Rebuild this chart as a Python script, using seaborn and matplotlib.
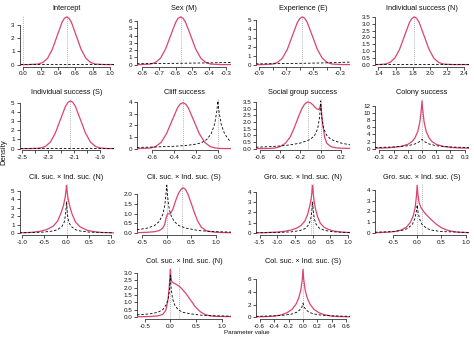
import matplotlib
matplotlib.use("Agg")
import matplotlib.pyplot as plt
import seaborn as sns

# ---------------- data ----------------
titles = ["Intercept", "Sex (M)", "Experience (E)", "Individual success (N)",
          "Individual success (S)", "Cliff success", "Social group success", "Colony success",
          "Cli. suc. \u00d7 Ind. suc. (N)", "Cli. suc. \u00d7 Ind. suc. (S)",
          "Gro. suc. \u00d7 Ind. suc. (N)", "Gro. suc. \u00d7 Ind. suc. (S)",
          "Col. suc. \u00d7 Ind. suc. (N)", "Col. suc. \u00d7 Ind. suc. (S)"]

int_x = [-0.04, 0.06, 0.17, 0.225, 0.28, 0.335, 0.39, 0.445, 0.4725, 0.5, 0.5275, 0.555, 0.61, 0.665, 0.72, 0.775, 0.83, 0.94, 1.04]
int_post = [0.0, 0.001, 0.04, 0.16, 0.49, 1.17, 2.18, 3.18, 3.49, 3.6, 3.49, 3.18, 2.18, 1.17, 0.49, 0.16, 0.04, 0.001, 0.0]
int_prior_x = [-0.04, 0.5, 1.04]
int_prior = [0.04, 0.04, 0.04]

sex_x = [-0.83, -0.81, -0.75, -0.72, -0.69, -0.66, -0.63, -0.60, -0.585, -0.57, -0.555, -0.54, -0.51, -0.48, -0.45, -0.42, -0.39, -0.33, -0.27]
sex_post = [0.0, 0.002, 0.07, 0.29, 0.89, 2.14, 4.0, 5.82, 6.4, 6.6, 6.4, 5.82, 4.0, 2.14, 0.89, 0.29, 0.07, 0.002, 0.0]
sex_prior_x = [-0.83, -0.7, -0.55, -0.4, -0.27]
sex_prior = [0.12, 0.15, 0.19, 0.24, 0.30]

exp_x = [-0.925, -0.876, -0.802, -0.765, -0.728, -0.691, -0.654, -0.617, -0.5985, -0.58, -0.5615, -0.543, -0.506, -0.469, -0.432, -0.395, -0.358, -0.284, -0.225]
exp_post = [0.0, 0.002, 0.06, 0.24, 0.73, 1.75, 3.28, 4.77, 5.23, 5.4, 5.23, 4.77, 3.28, 1.75, 0.73, 0.24, 0.06, 0.002, 0.0]
exp_prior_x = [-0.925, -0.75, -0.6, -0.45, -0.225]
exp_prior = [0.08, 0.11, 0.14, 0.18, 0.28]

isn_x = [1.36, 1.42, 1.478, 1.535, 1.592, 1.649, 1.706, 1.763, 1.7915, 1.82, 1.8485, 1.877, 1.934, 1.991, 2.048, 2.105, 2.162, 2.276, 2.46]
isn_post = [0.0, 0.008, 0.039, 0.154, 0.474, 1.14, 2.12, 3.09, 3.39, 3.5, 3.39, 3.09, 2.12, 1.14, 0.474, 0.154, 0.039, 0.001, 0.0]
isn_prior_x = [1.36, 1.9, 2.46]
isn_prior = [0.03, 0.03, 0.03]

iss_x = [-2.52, -2.438, -2.361, -2.3225, -2.284, -2.2455, -2.207, -2.1685, -2.149, -2.13, -2.111, -2.0915, -2.053, -2.0145, -1.976, -1.9375, -1.899, -1.85, -1.8]
iss_post = [0.0, 0.002, 0.058, 0.23, 0.70, 1.69, 3.15, 4.59, 5.04, 5.2, 5.04, 4.59, 3.15, 1.69, 0.70, 0.23, 0.058, 0.005, 0.0]
iss_prior_x = [-2.52, -2.1, -1.8]
iss_prior = [0.03, 0.03, 0.03]

cliff_x = [-0.74, -0.72, -0.62, -0.57, -0.52, -0.47, -0.42, -0.37, -0.345, -0.32, -0.295, -0.27, -0.22, -0.17, -0.12, -0.07, -0.02, 0.03, 0.08, 0.12]
cliff_post = [0.0, 0.001, 0.044, 0.17, 0.53, 1.28, 2.40, 3.49, 3.83, 3.95, 3.83, 3.49, 2.40, 1.28, 0.53, 0.17, 0.044, 0.01, 0.001, 0.0]
cliff_prior_x = [-0.74, -0.6, -0.4, -0.3, -0.2, -0.15, -0.1, -0.06, -0.03, -0.01, 0.0, 0.01, 0.03, 0.06, 0.1, 0.12]
cliff_prior = [0.1, 0.13, 0.2, 0.26, 0.38, 0.5, 0.8, 1.3, 2.1, 3.2, 4.1, 3.2, 2.1, 1.3, 0.75, 0.62]

soc_x = [-0.64, -0.5, -0.45, -0.4, -0.35, -0.3, -0.26, -0.22, -0.19, -0.16, -0.13, -0.1, -0.07, -0.04, -0.02, -0.01, 0.0, 0.01, 0.02, 0.04, 0.06, 0.1, 0.15, 0.2, 0.29]
soc_post = [0.0, 0.01, 0.05, 0.15, 0.4, 0.9, 1.6, 2.4, 2.95, 3.35, 3.52, 3.45, 3.25, 3.0, 2.95, 3.05, 3.35, 2.6, 1.8, 0.85, 0.4, 0.15, 0.06, 0.03, 0.01]
soc_prior_x = [-0.64, -0.5, -0.4, -0.3, -0.2, -0.1, -0.06, -0.03, -0.01, 0.0, 0.01, 0.03, 0.06, 0.1, 0.2, 0.29]
soc_prior = [0.1, 0.15, 0.2, 0.28, 0.42, 0.7, 1.0, 1.5, 2.4, 3.6, 2.4, 1.5, 1.0, 0.7, 0.42, 0.28]

col_x = [-0.33, -0.25, -0.2, -0.15, -0.1, -0.07, -0.05, -0.03, -0.015, -0.005, 0.0, 0.005, 0.015, 0.03, 0.05, 0.07, 0.1, 0.15, 0.2, 0.25, 0.33]
col_post = [0.1, 0.2, 0.35, 0.6, 1.2, 2.0, 3.0, 4.8, 7.5, 11.0, 13.5, 11.0, 7.5, 4.8, 3.0, 2.0, 1.2, 0.6, 0.35, 0.2, 0.1]
col_prior_x = [-0.33, -0.2, -0.1, -0.05, -0.02, 0.0, 0.02, 0.05, 0.1, 0.2, 0.33]
col_prior = [0.3, 0.45, 0.8, 1.3, 1.9, 2.6, 1.9, 1.3, 0.8, 0.45, 0.3]

clin_x = [-1.05, -0.8, -0.6, -0.45, -0.3, -0.2, -0.12, -0.07, -0.03, -0.01, 0.0, 0.01, 0.03, 0.07, 0.12, 0.2, 0.3, 0.45, 0.6, 0.8, 1.05]
clin_post = [0.03, 0.08, 0.2, 0.4, 0.8, 1.4, 2.4, 3.2, 4.2, 5.0, 5.6, 5.0, 4.2, 3.2, 2.3, 1.3, 0.75, 0.35, 0.18, 0.07, 0.03]
clin_prior_x = [-1.05, -0.8, -0.5, -0.3, -0.2, -0.1, -0.05, -0.02, 0.0, 0.02, 0.05, 0.1, 0.2, 0.3, 0.5, 0.8, 1.05]
clin_prior = [0.04, 0.06, 0.12, 0.25, 0.4, 0.8, 1.3, 2.2, 3.7, 2.2, 1.3, 0.8, 0.4, 0.25, 0.12, 0.06, 0.04]

clis_x = [-0.6, -0.4, -0.25, -0.15, -0.08, -0.04, -0.01, 0.02, 0.05, 0.08, 0.12, 0.16, 0.2, 0.25, 0.3, 0.34, 0.38, 0.43, 0.5, 0.56, 0.62, 0.7, 0.8, 0.95, 1.1, 1.3]
clis_post = [0.02, 0.04, 0.07, 0.13, 0.25, 0.45, 0.8, 1.0, 0.98, 1.02, 1.2, 1.5, 1.8, 2.1, 2.28, 2.32, 2.25, 2.0, 1.5, 1.05, 0.65, 0.3, 0.12, 0.05, 0.03, 0.02]
clis_prior_x = [-0.6, -0.4, -0.25, -0.15, -0.08, -0.04, -0.015, 0.0, 0.015, 0.04, 0.08, 0.15, 0.25, 0.4, 0.65, 0.9, 1.3]
clis_prior = [0.17, 0.25, 0.38, 0.6, 0.95, 1.4, 2.0, 2.45, 2.0, 1.4, 0.95, 0.6, 0.38, 0.25, 0.13, 0.08, 0.05]

gron_x = [-1.6, -1.3, -1.0, -0.8, -0.6, -0.45, -0.33, -0.22, -0.14, -0.08, -0.04, -0.015, 0.0, 0.015, 0.04, 0.08, 0.14, 0.22, 0.33, 0.45, 0.6, 0.8, 1.06]
gron_post = [0.02, 0.05, 0.1, 0.17, 0.3, 0.48, 0.72, 1.15, 1.8, 2.6, 3.3, 4.0, 4.6, 4.0, 3.2, 2.4, 1.6, 0.95, 0.55, 0.35, 0.2, 0.1, 0.05]
gron_prior_x = [-1.6, -1.0, -0.6, -0.35, -0.2, -0.1, -0.05, -0.02, 0.0, 0.02, 0.05, 0.1, 0.2, 0.35, 0.6, 1.06]
gron_prior = [0.03, 0.06, 0.12, 0.25, 0.45, 0.85, 1.4, 2.1, 3.0, 2.1, 1.4, 0.85, 0.45, 0.25, 0.12, 0.05]

gros_x = [-0.87, -0.6, -0.45, -0.33, -0.22, -0.14, -0.08, -0.04, -0.015, 0.0, 0.015, 0.04, 0.08, 0.14, 0.22, 0.3, 0.4, 0.5, 0.6, 0.7, 0.85, 1.07]
gros_post = [0.03, 0.08, 0.15, 0.28, 0.55, 1.0, 1.6, 2.4, 3.4, 4.4, 3.6, 2.8, 2.35, 1.95, 1.55, 1.2, 0.8, 0.5, 0.3, 0.18, 0.08, 0.04]
gros_prior_x = [-0.87, -0.5, -0.3, -0.2, -0.1, -0.05, -0.02, 0.0, 0.02, 0.05, 0.1, 0.2, 0.3, 0.5, 1.07]
gros_prior = [0.08, 0.14, 0.27, 0.42, 0.8, 1.3, 1.9, 2.6, 1.9, 1.3, 0.8, 0.42, 0.27, 0.14, 0.06]

coln_x = [-0.65, -0.4, -0.25, -0.15, -0.09, -0.05, -0.025, -0.01, 0.0, 0.01, 0.025, 0.05, 0.08, 0.13, 0.18, 0.23, 0.28, 0.33, 0.38, 0.43, 0.48, 0.54, 0.6, 0.68, 0.78, 0.9, 1.18]
coln_post = [0.02, 0.04, 0.08, 0.18, 0.45, 1.1, 1.9, 2.7, 3.25, 2.75, 2.45, 2.35, 2.3, 2.2, 2.08, 1.9, 1.7, 1.48, 1.22, 0.98, 0.72, 0.5, 0.32, 0.17, 0.08, 0.05, 0.03]
coln_prior_x = [-0.65, -0.4, -0.25, -0.15, -0.08, -0.04, -0.015, 0.0, 0.015, 0.04, 0.08, 0.15, 0.25, 0.4, 0.6, 0.85, 1.18]
coln_prior = [0.15, 0.22, 0.32, 0.5, 0.85, 1.3, 1.95, 2.85, 1.95, 1.3, 0.85, 0.5, 0.32, 0.22, 0.13, 0.09, 0.06]

cols_x = [-0.65, -0.5, -0.4, -0.3, -0.22, -0.15, -0.1, -0.06, -0.03, -0.01, 0.0, 0.01, 0.03, 0.06, 0.1, 0.15, 0.22, 0.3, 0.4, 0.5, 0.65]
cols_post = [0.04, 0.08, 0.15, 0.35, 0.7, 1.25, 2.0, 3.0, 4.3, 6.0, 7.6, 6.0, 4.3, 3.0, 2.0, 1.25, 0.7, 0.35, 0.15, 0.08, 0.04]
cols_prior_x = [-0.65, -0.4, -0.25, -0.15, -0.08, -0.04, -0.015, 0.0, 0.015, 0.04, 0.08, 0.15, 0.25, 0.4, 0.65]
cols_prior = [0.12, 0.2, 0.32, 0.5, 0.8, 1.2, 1.6, 2.2, 1.6, 1.2, 0.8, 0.5, 0.32, 0.2, 0.12]

# vertical reference lines (zero and posterior mean)
vlines = [[0.0, 0.5], [-0.57], [-0.58], [1.82],
          [-2.13], [0.0, -0.32], [0.0, -0.13], [0.0],
          [0.0], [0.0, 0.3], [0.0, -0.04], [0.0, 0.1],
          [0.0, 0.17], [0.0]]

xlims = [(-0.045, 1.04), (-0.83, -0.27), (-0.925, -0.225), (1.36, 2.46),
         (-2.52, -1.8), (-0.74, 0.12), (-0.64, 0.29), (-0.33, 0.33),
         (-1.05, 1.05), (-0.6, 1.3), (-1.6, 1.06), (-0.87, 1.07),
         (-0.65, 1.18), (-0.65, 0.65)]

xticks = [[0.0, 0.2, 0.4, 0.6, 0.8, 1.0],
          [-0.8, -0.7, -0.6, -0.5, -0.4, -0.3],
          [-0.9, -0.8, -0.7, -0.6, -0.5, -0.4, -0.3],
          [1.4, 1.6, 1.8, 2.0, 2.2, 2.4],
          [-2.5, -2.4, -2.3, -2.2, -2.1, -2.0, -1.9],
          [-0.6, -0.4, -0.2, 0.0],
          [-0.6, -0.4, -0.2, 0.0, 0.2],
          [-0.3, -0.2, -0.1, 0.0, 0.1, 0.2, 0.3],
          [-1.0, -0.5, 0.0, 0.5, 1.0],
          [-0.5, 0.0, 0.5, 1.0],
          [-1.5, -1.0, -0.5, 0.0, 0.5, 1.0],
          [-0.5, 0.0, 0.5, 1.0],
          [-0.5, 0.0, 0.5, 1.0],
          [-0.6, -0.4, -0.2, 0.0, 0.2, 0.4, 0.6]]
xticklabels = [["0.0", "0.2", "0.4", "0.6", "0.8", "1.0"],
               ["-0.8", "-0.7", "-0.6", "-0.5", "-0.4", "-0.3"],
               ["-0.9", "", "-0.7", "", "-0.5", "", "-0.3"],
               ["1.4", "1.6", "1.8", "2.0", "2.2", "2.4"],
               ["-2.5", "", "-2.3", "", "-2.1", "", "-1.9"],
               ["-0.6", "-0.4", "-0.2", "0.0"],
               ["-0.6", "-0.4", "-0.2", "0.0", "0.2"],
               ["-0.3", "-0.2", "-0.1", "0.0", "0.1", "0.2", "0.3"],
               ["-1.0", "-0.5", "0.0", "0.5", "1.0"],
               ["-0.5", "0.0", "0.5", "1.0"],
               ["-1.5", "-1.0", "-0.5", "0.0", "0.5", "1.0"],
               ["-0.5", "0.0", "0.5", "1.0"],
               ["-0.5", "0.0", "0.5", "1.0"],
               ["-0.6", "-0.4", "-0.2", "0.0", "0.2", "0.4", "0.6"]]
yticks = [[0, 1, 2, 3], [0, 1, 2, 3, 4, 5, 6], [0, 1, 2, 3, 4, 5],
          [0.0, 0.5, 1.0, 1.5, 2.0, 2.5, 3.0, 3.5],
          [0, 1, 2, 3, 4, 5], [0, 1, 2, 3, 4],
          [0.0, 0.5, 1.0, 1.5, 2.0, 2.5, 3.0, 3.5],
          [0, 2, 4, 6, 8, 10, 12],
          [0, 1, 2, 3, 4, 5], [0.0, 0.5, 1.0, 1.5, 2.0],
          [0, 1, 2, 3, 4], [0, 1, 2, 3, 4],
          [0.0, 0.5, 1.0, 1.5, 2.0, 2.5, 3.0], [0, 2, 4, 6]]
yticklabels = [["0", "1", "2", "3"], ["0", "1", "2", "3", "4", "5", "6"],
               ["0", "1", "2", "3", "4", "5"],
               ["0.0", "0.5", "1.0", "1.5", "2.0", "2.5", "3.0", "3.5"],
               ["0", "1", "2", "3", "4", "5"], ["0", "1", "2", "3", "4"],
               ["0.0", "0.5", "1.0", "1.5", "2.0", "2.5", "3.0", "3.5"],
               ["0", "2", "4", "6", "8", "10", "12"],
               ["0", "1", "2", "3", "4", "5"], ["0.0", "0.5", "1.0", "1.5", "2.0"],
               ["0", "1", "2", "3", "4"], ["0", "1", "2", "3", "4"],
               ["0.0", "0.5", "1.0", "1.5", "2.0", "2.5", "3.0"], ["0", "2", "4", "6"]]

posts = [(int_x, int_post), (sex_x, sex_post), (exp_x, exp_post), (isn_x, isn_post),
         (iss_x, iss_post), (cliff_x, cliff_post), (soc_x, soc_post), (col_x, col_post),
         (clin_x, clin_post), (clis_x, clis_post), (gron_x, gron_post), (gros_x, gros_post),
         (coln_x, coln_post), (cols_x, cols_post)]
priors = [(int_prior_x, int_prior), (sex_prior_x, sex_prior), (exp_prior_x, exp_prior),
          (isn_prior_x, isn_prior), (iss_prior_x, iss_prior), (cliff_prior_x, cliff_prior),
          (soc_prior_x, soc_prior), (col_prior_x, col_prior), (clin_prior_x, clin_prior),
          (clis_prior_x, clis_prior), (gron_prior_x, gron_prior), (gros_prior_x, gros_prior),
          (coln_prior_x, coln_prior), (cols_prior_x, cols_prior)]

# ---------------- layout / style ----------------
sns.set_theme(style="ticks")
plt.rcParams['font.family'] = ['Liberation Sans', 'DejaVu Sans']

W, H = 474, 337
fig = plt.figure(figsize=(W / 100, H / 100), dpi=100)

col_left = [19.5, 137.0, 256.0, 375.0]
row_bottom = [66.5, 150.5, 235.0, 319.0]
ax_w, ax_h = 94.0, 51.5
grid = [(0, 0), (0, 1), (0, 2), (0, 3), (1, 0), (1, 1), (1, 2), (1, 3),
        (2, 0), (2, 1), (2, 2), (2, 3), (3, 1), (3, 2)]

RED = "#DB4470"
AXC = "#333333"

for i, (r, c) in enumerate(grid):
    ax = fig.add_axes([col_left[c] / W, 1 - row_bottom[r] / H, ax_w / W, ax_h / H])
    px, py = posts[i]
    qx, qy = priors[i]
    for v in vlines[i]:
        ax.axvline(v, color="#9a9a9a", lw=0.6, ls=(0, (1, 1.5)), zorder=1)
    sns.lineplot(x=px, y=py, ax=ax, color=RED, lw=0.9, estimator=None, sort=False, zorder=3)
    sns.lineplot(x=qx, y=qy, ax=ax, color="black", lw=0.6, linestyle=(0, (3, 2.2)),
                 estimator=None, sort=False, zorder=4)
    ymax = max(max(py), max(qy))
    ax.set_xlim(*xlims[i])
    ax.set_ylim(-0.04 * ymax, 1.04 * ymax)
    ax.set_xticks(xticks[i])
    ax.set_xticklabels(xticklabels[i])
    ax.set_yticks(yticks[i])
    ax.set_yticklabels(yticklabels[i])
    for s in ["top", "right"]:
        ax.spines[s].set_visible(False)
    ax.spines["left"].set_bounds(yticks[i][0], yticks[i][-1])
    ax.spines["bottom"].set_bounds(xticks[i][0], xticks[i][-1])
    for s in ["left", "bottom"]:
        ax.spines[s].set_color(AXC)
        ax.spines[s].set_linewidth(0.6)
    ax.tick_params(axis="both", direction="out", length=2, width=0.6, pad=1.5,
                   labelsize=4.5, colors=AXC, labelcolor="#111111")
    ax.set_xlabel("")
    ax.set_ylabel("")
    ax.set_facecolor("white")
    ax.set_title(titles[i], fontsize=5.3, pad=3.5, color="#111111")

fig.text(3.5 / W, 1 - 152 / H, "Density", rotation=90, ha="center", va="center",
         fontsize=5.5, color="#111111")
fig.text(247 / W, 1 - 332.5 / H, "Parameter value", ha="center", va="center",
         fontsize=4.5, color="#111111")

fig.savefig("out.png", dpi=100, facecolor="white")
